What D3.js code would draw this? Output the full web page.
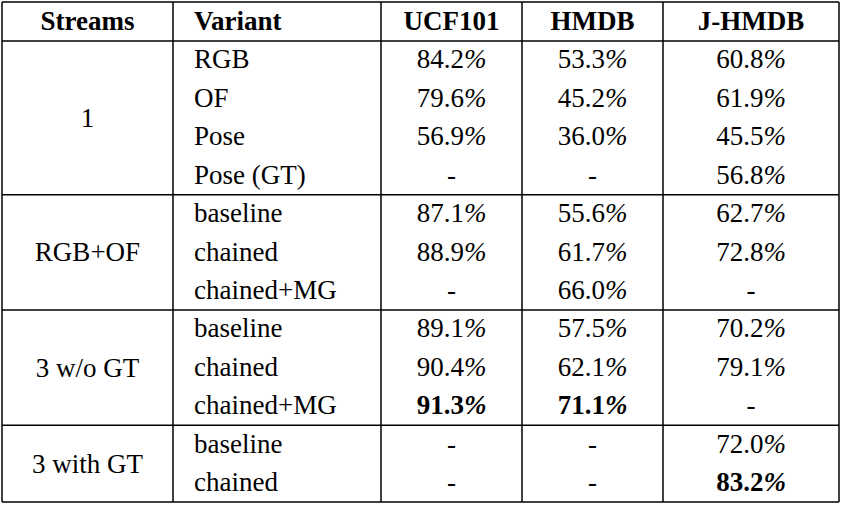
<!DOCTYPE html><html><head><script src="https://cdn.jsdelivr.net/npm/d3@7"></script>
<style>body{margin:0;background:#fff}</style></head><body><svg id="s" width="842" height="506"></svg>
<script>
const headers=["Streams","Variant","UCF101","HMDB","J-HMDB"];
const groups=["1","RGB+OF","3 w/o GT","3 with GT"];
const groupSizes=[4,3,3,2];
const variants=["RGB","OF","Pose","Pose (GT)","baseline","chained","chained+MG","baseline","chained","chained+MG","baseline","chained"];
const ucf=["84.2","79.6","56.9","-","87.1","88.9","-","89.1","90.4","91.3","-","-"];
const hmdb=["53.3","45.2","36.0","-","55.6","61.7","66.0","57.5","62.1","71.1","-","-"];
const jhmdb=["60.8","61.9","45.5","56.8","62.7","72.8","-","70.2","79.1","-","72.0","83.2"];
const bold={ucf:[9],hmdb:[9],jhmdb:[11]};
const svg=d3.select("#s");
const xs=[2,173,381,522,663,839];
const topY=2;
const y=d3.scaleLinear().domain([0,12]).range([41,502]);
const F="Liberation Serif, Times New Roman, serif";
const line=(x1,y1,x2,y2)=>svg.append("line").attr("x1",x1).attr("y1",y1).attr("x2",x2).attr("y2",y2).attr("stroke","#000").attr("stroke-width",1.5);
headers.forEach((h,i)=>{
 const t=svg.append("text").attr("y",30).attr("font-family",F).attr("font-size",27).attr("font-weight","bold").text(h);
 if(i==1) t.attr("x",194); else t.attr("x",(xs[i]+xs[i+1])/2).attr("text-anchor","middle");
});
let start=0;
groups.forEach((g,gi)=>{
 const n=groupSizes[gi];
 svg.append("text").attr("x",(xs[0]+xs[1])/2).attr("y",(y(start)+y(start+n))/2+9).attr("text-anchor","middle").attr("font-family",F).attr("font-size",27).text(g);
 start+=n;
 line(xs[0],y(start),xs[5],y(start));
});
const cols=[[ucf,"ucf"],[hmdb,"hmdb"],[jhmdb,"jhmdb"]];
variants.forEach((v,i)=>{
 const by=y(i+1)-11;
 svg.append("text").attr("x",194).attr("y",by).attr("font-family",F).attr("font-size",27).text(v);
 cols.forEach(([arr,key],ci)=>{
  const t=svg.append("text").attr("x",(xs[ci+2]+xs[ci+3])/2).attr("y",by).attr("text-anchor","middle").attr("font-family",F).attr("font-size",27);
  if(bold[key].includes(i)) t.attr("font-weight","bold");
  if(arr[i]=="-") t.text("-"); else {t.append("tspan").text(arr[i]);t.append("tspan").attr("font-style","italic").text("%");}
 });
});
line(xs[0],topY,xs[5],topY);line(xs[0],41,xs[5],41);
xs.forEach(x=>line(x,topY,x,502));
</script></body></html>
